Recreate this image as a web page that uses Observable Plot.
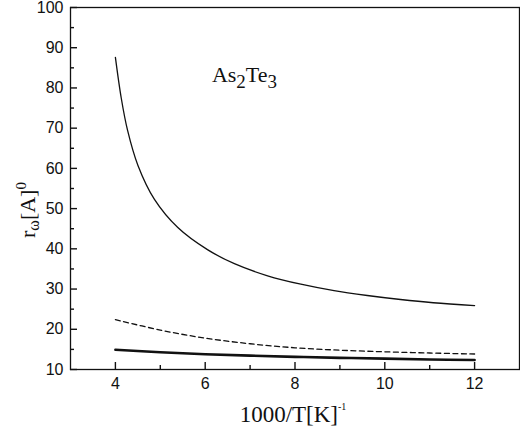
<!DOCTYPE html>
<html>
<head>
<meta charset="utf-8">
<script src="https://cdn.jsdelivr.net/npm/d3@7"></script>
<script src="https://cdn.jsdelivr.net/npm/@observablehq/plot@0.6"></script>
<style>
  html, body { margin: 0; padding: 0; background: #fff; }
</style>
</head>
<body>
<div id="chart"></div>
<script>
// Upper thin solid curve
const xTop = [4, 4.13, 4.27, 4.5, 4.87, 5.39, 6.05, 6.65, 7.39, 8.13, 8.87, 9.61, 10.35, 11.08, 12];
const rTop = [87.6, 77.5, 69.5, 60.8, 52.3, 45.3, 39.8, 36.3, 33.3, 31.2, 29.6, 28.4, 27.4, 26.6, 25.9];
// Lower curves
const xLow = [4, 5, 6, 7, 8, 9, 10, 11, 12];
const rDashed = [22.4, 19.8, 17.8, 16.4, 15.4, 14.8, 14.4, 14.1, 13.85];
const rThick = [14.9, 14.3, 13.8, 13.45, 13.15, 12.9, 12.7, 12.5, 12.35];

const xMajor = [4, 6, 8, 10, 12];
const xMinor = [5, 7, 9, 11];
const yMajor = [10, 20, 30, 40, 50, 60, 70, 80, 90, 100];
const yMinor = [15, 25, 35, 45, 55, 65, 75, 85, 95];

const compound = "As2Te3";
const labelPos = [6.16, 81.4];

const topRows = xTop.map((x, i) => ({x, r: rTop[i]}));
const dashedRows = xLow.map((x, i) => ({x, r: rDashed[i]}));
const thickRows = xLow.map((x, i) => ({x, r: rThick[i]}));

const ink = "#111";
const W = 520, H = 428, mL = 70, mR = 1, mT = 7, mB = 59;
const xDom = [3, 13], yDom = [10, 100];
const plotW = W - mL - mR, plotH = H - mT - mB;
// tick lengths expressed in data units (7px major, 4px minor)
const yMaj = (yDom[1] - yDom[0]) * 7 / plotH, yMin = (yDom[1] - yDom[0]) * 4 / plotH;
const xMaj = (xDom[1] - xDom[0]) * 7 / plotW, xMin = (xDom[1] - xDom[0]) * 4 / plotW;

const plot = Plot.plot({
  width: W,
  height: H,
  marginLeft: mL,
  marginRight: mR,
  marginTop: mT,
  marginBottom: mB,
  style: {fontFamily: "Liberation Sans, Arial, sans-serif", fontSize: "16px", color: ink, background: "#fff"},
  x: {domain: xDom},
  y: {domain: yDom},
  marks: [
    Plot.axisX({ticks: xMajor, tickSize: 0, tickPadding: 8, label: null, tickFormat: d => String(d)}),
    Plot.axisY({ticks: yMajor, tickSize: 0, tickPadding: 7, label: null, tickFormat: d => String(d)}),
    // inward ticks
    Plot.ruleX(xMajor, {x: d => d, y1: yDom[0], y2: yDom[0] + yMaj, stroke: ink, strokeWidth: 1.4}),
    Plot.ruleX(xMinor, {x: d => d, y1: yDom[0], y2: yDom[0] + yMin, stroke: ink, strokeWidth: 1.4}),
    Plot.ruleY(yMajor, {y: d => d, x1: xDom[0], x2: xDom[0] + xMaj, stroke: ink, strokeWidth: 1.4}),
    Plot.ruleY(yMinor, {y: d => d, x1: xDom[0], x2: xDom[0] + xMin, stroke: ink, strokeWidth: 1.4}),
    Plot.line(topRows, {x: "x", y: "r", stroke: ink, strokeWidth: 1.3, curve: "catmull-rom"}),
    Plot.line(dashedRows, {x: "x", y: "r", stroke: ink, strokeWidth: 1.3, strokeDasharray: "5,3.5", curve: "catmull-rom"}),
    Plot.line(thickRows, {x: "x", y: "r", stroke: ink, strokeWidth: 2.6, curve: "catmull-rom"}),
    Plot.frame({stroke: ink, strokeWidth: 1.3})
  ]
});

document.getElementById("chart").appendChild(plot);

const svg = d3.select(plot);
const sx = plot.scale("x"), sy = plot.scale("y");
const serif = "Liberation Serif, Times New Roman, serif";

// Compound label As2Te3 with subscripts
const lab = svg.append("text")
  .attr("x", sx.apply(labelPos[0]))
  .attr("y", sy.apply(labelPos[1]))
  .attr("text-anchor", "start")
  .attr("font-family", serif)
  .attr("font-size", 22)
  .attr("fill", ink);
const parts = compound.match(/[A-Za-z]+|\d+/g);
let shifted = false;
parts.forEach(p => {
  const isNum = /\d/.test(p);
  const t = lab.append("tspan").text(p);
  if (isNum) { t.attr("font-size", 19).attr("dy", shifted ? 0 : 6); shifted = true; }
  else { if (shifted) t.attr("dy", -6); shifted = false; }
});

// X axis label
const xl = svg.append("text")
  .attr("x", 293)
  .attr("y", 422)
  .attr("text-anchor", "middle")
  .attr("font-family", serif)
  .attr("font-size", 23)
  .attr("fill", ink);
xl.append("tspan").text("1000/T[K]");
xl.append("tspan").text("-1").attr("font-size", 10).attr("dy", -12);

// Y axis label
const yl = svg.append("text")
  .attr("transform", "translate(35,210) rotate(-90)")
  .attr("text-anchor", "middle")
  .attr("font-family", serif)
  .attr("font-size", 22)
  .attr("fill", ink);
yl.append("tspan").text("r");
yl.append("tspan").text("ω").attr("font-size", 16).attr("dy", 4);
yl.append("tspan").text("[A]").attr("dy", -4);
yl.append("tspan").text("0").attr("font-size", 15).attr("dy", -9);
</script>
</body>
</html>
